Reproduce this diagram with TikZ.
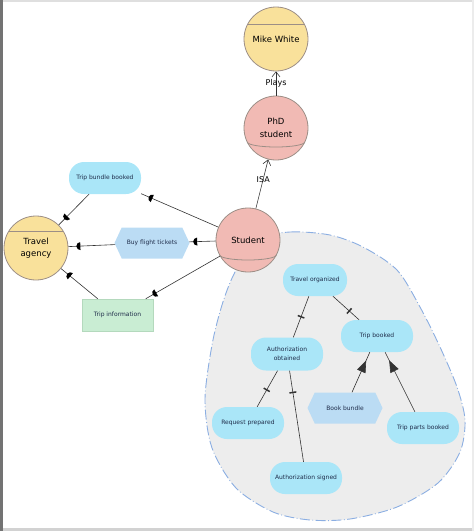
\documentclass[tikz,border=0pt]{standalone}
\usepackage{fontspec}
\setmainfont{DejaVu Sans}
\usetikzlibrary{shapes.symbols,arrows.meta,decorations.markings}
\definecolor{actoryellow}{HTML}{F9E19B}
\definecolor{actorpink}{HTML}{F1BAB4}
\definecolor{actorline}{HTML}{9C8E86}
\definecolor{goalcyan}{HTML}{AAE6F8}
\definecolor{taskblue}{HTML}{BBDCF4}
\definecolor{resgreen}{HTML}{C9EDD3}
\definecolor{resline}{HTML}{B4D9BD}
\definecolor{smalltext}{HTML}{1F2D4A}
\definecolor{blobfill}{HTML}{EDEDED}
\definecolor{blobline}{HTML}{8BAEE2}
\definecolor{linkgray}{HTML}{333333}
\begin{document}
\begin{tikzpicture}[x=1pt,y=-1pt,
	actor/.style={circle,draw=actorline,line width=0.8pt,minimum size=64pt,inner sep=0pt,
	font=\fontsize{8.5}{12.5}\selectfont,align=center},
	goal/.style={rectangle,rounded corners=15pt,fill=goalcyan,minimum width=72pt,minimum height=32pt,
	inner sep=1pt,font=\fontsize{6}{8.5}\selectfont,text=smalltext,align=center},
	task/.style={signal,signal to=west and east,signal pointer angle=130,fill=taskblue,
	minimum width=75pt,minimum height=31pt,inner sep=1pt,font=\fontsize{6}{8.5}\selectfont,text=smalltext},
	resource/.style={rectangle,fill=resgreen,draw=resline,minimum width=71pt,minimum height=32pt,
	inner sep=1pt,font=\fontsize{6}{8.5}\selectfont,text=smalltext},
	link/.style={draw=linkgray,line width=0.6pt},
	ptr/.style={link,-{Straight Barb[length=5pt,width=8pt]}},
	dep/.style={link,postaction={decorate},decoration={markings,
	mark=at position #1 with {\fill (0,4pt) arc[start angle=90,end angle=-90,radius=4pt] -- cycle;}}},
	dep/.default=-12pt,
	andlink/.style={link,postaction={decorate},decoration={markings,
	mark=at position 22pt with {\draw[line width=1.5pt] (0,-3.5pt) -- (0,3.5pt);}}},
	meansend/.style={link,postaction={decorate},decoration={markings,
	mark=at position -9pt with {\arrow{Triangle[length=12pt,width=9pt]}}}},
	lbl/.style={font=\fontsize{8}{10}\selectfont,inner sep=0pt}]
\useasboundingbox (0,0) rectangle (474,531);
% frame
\fill[gray!25] (0,0) rectangle (474,2);
\fill[gray!35] (0,528) rectangle (474,531);
\fill[gray!15] (472,0) rectangle (474,531);
\fill[gray!110] (0,0) rectangle (2.5,531);
% actor boundary of student
\path[fill=blobfill,draw=blobline,line width=0.9pt,dash pattern=on 10pt off 2.5pt on 0.8pt off 2.5pt]
	plot[smooth cycle] coordinates {(255,240) (290,232) (330,235) (363,247) (397,270) (420,307)
	(440,347) (457,387) (465,420) (460,452) (438,483) (397,507) (350,519) (310,520) (273,512)
	(236,488) (212,448) (205,400) (212,345) (222,305) (234,274)};
% actors
\node[actor,fill=actoryellow] (mike) at (276,39) {Mike White};
\node[actor,fill=actorpink] (phd) at (276,128) {PhD\\student};
\node[actor,fill=actorpink] (stud) at (248,240) {Student};
\node[actor,fill=actoryellow] (ta) at (36,248) {Travel\\agency};
\draw[actorline,line width=0.8pt] (mike.center) ++(-28.3pt,15pt) -- ++(56.6pt,0pt);
\draw[actorline,line width=0.8pt] (ta.center) ++(-27.2pt,17pt) -- ++(54.4pt,0pt);
\draw[actorline,line width=0.8pt] (phd.center) ++(-28.7pt,-14pt) arc[start angle=180,end angle=360,x radius=28.7pt,y radius=5pt];
\draw[actorline,line width=0.8pt] (stud.center) ++(-28.3pt,-15pt) arc[start angle=180,end angle=360,x radius=28.3pt,y radius=5pt];
% dependums
\node[goal] (tbb) at (105,178) {Trip bundle booked};
\node[task] (bft) at (152,243) {Buy flight tickets};
\node[resource] (tinfo) at (117.5,315) {Trip information};
% student goals
\node[goal,minimum width=64pt] (torg) at (315,280) {Travel organized};
\node[goal] (tbooked) at (377,336) {Trip booked};
\node[goal,minimum height=33pt] (authob) at (287,354) {Authorization\\obtained};
\node[goal] (reqprep) at (248,423) {Request prepared};
\node[task] (bookb) at (345,408) {Book bundle};
\node[goal] (tparts) at (423,428) {Trip parts booked};
\node[goal] (authsig) at (306,478) {Authorization signed};
% links
\draw[ptr] (phd) -- node[lbl]{Plays} (mike);
\draw[ptr] (stud) -- node[lbl,pos=0.6]{ISA} (phd);
\draw[dep] (stud) -- (tbb);
\draw[dep] (tbb) -- (ta);
\draw[dep=-8pt] (stud) -- (bft);
\draw[dep] (bft) -- (ta);
\draw[dep] (stud) -- (tinfo);
\draw[dep] (tinfo) -- (ta);
\draw[andlink] (torg) -- (authob);
\draw[andlink] (torg) -- (tbooked);
\draw[andlink] (authob) -- (reqprep);
\draw[andlink] (authob) -- (authsig);
\draw[meansend] (bookb) -- (tbooked);
\draw[meansend] (tparts) -- (tbooked);
\end{tikzpicture}
\end{document}
